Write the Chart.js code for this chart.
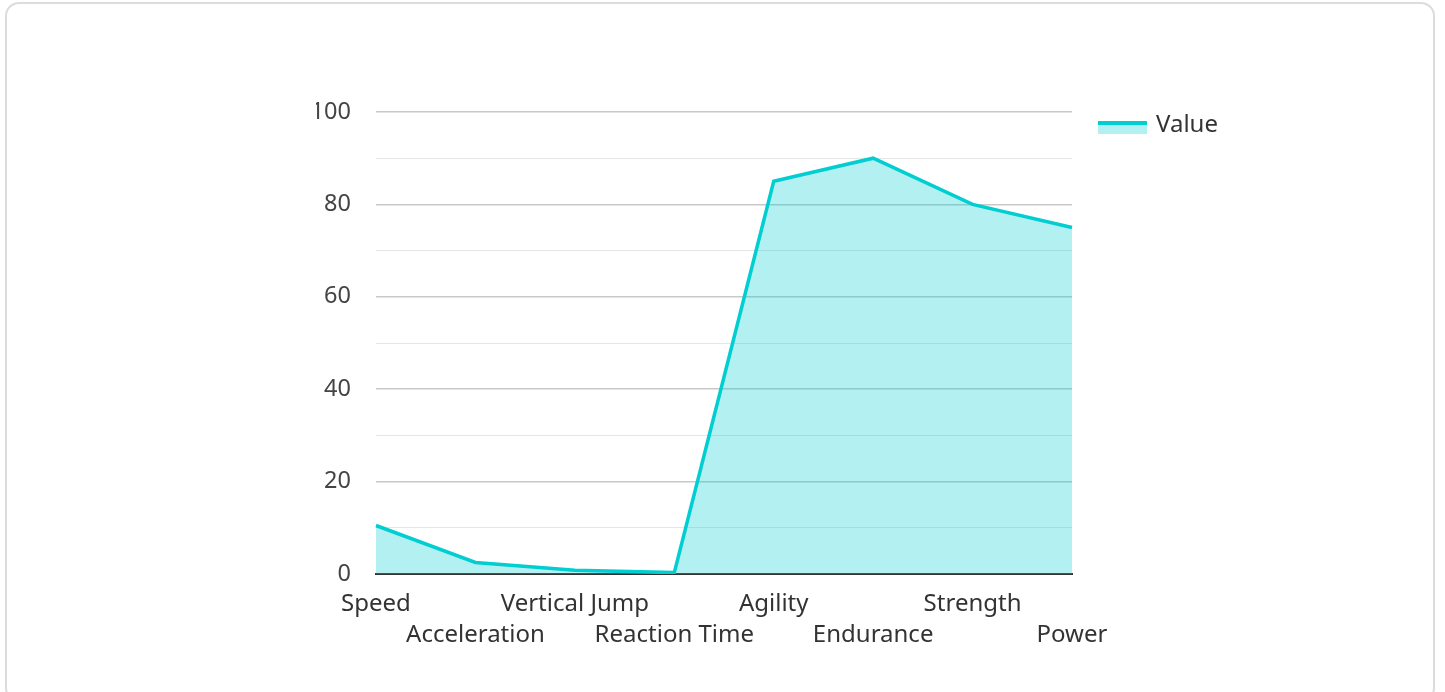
<!DOCTYPE html>
<html>
<head>
<meta charset="utf-8">
<script src="https://cdn.jsdelivr.net/npm/chart.js@4/dist/chart.umd.min.js"></script>
<style>
  html, body { margin: 0; padding: 0; background: #fff; overflow: hidden; }
  .card {
    position: absolute; left: 5px; top: 2px; width: 1430px; height: 700px;
    border: 2px solid #dcdcdc; border-radius: 14px; box-sizing: border-box;
  }
  #wrap { position: absolute; left: 0; top: 0; width: 1445px; height: 692px; }
</style>
</head>
<body>
<div class="card"></div>
<div id="wrap"><canvas id="chart"></canvas></div>
<script>
// dati
const categories = ["Speed", "Acceleration", "Vertical Jump", "Reaction Time", "Agility", "Endurance", "Strength", "Power"];
const values = [10.5, 2.5, 0.8, 0.3, 85, 90, 80, 75];
const yTickLabels = [0, 20, 40, 60, 80, 100];
const seriesName = "Value";

const LINE = "#00CED1";
const FILL = "rgba(0, 206, 209, 0.3)";
const FONT = "'Noto Sans', 'Open Sans', sans-serif";

// legenda stile "linea + area" disegnata a mano a destra dell'area del grafico
const areaLegend = {
  id: "areaLegend",
  afterDraw(chart){
    const ctx = chart.ctx;
    const x = chart.chartArea.right + 26;
    const y = chart.chartArea.top + 10;
    ctx.save();
    ctx.fillStyle = FILL;
    ctx.fillRect(x, y, 49, 12);
    ctx.fillStyle = LINE;
    ctx.fillRect(x, y - 1, 49, 4);
    ctx.fillStyle = "#333";
    ctx.font = "24px " + FONT;
    ctx.textBaseline = "middle";
    ctx.fillText(seriesName, x + 58, y + 3);
    ctx.restore();
  }
};

new Chart(document.getElementById("chart"), {
  type: "line",
  data: {
    labels: categories,
    datasets: [{
      label: seriesName,
      data: values,
      borderColor: LINE,
      backgroundColor: FILL,
      borderWidth: 3.5,
      pointRadius: 0,
      tension: 0,
      fill: "origin"
    }]
  },
  options: {
    responsive: true,
    maintainAspectRatio: false,
    animation: false,
    layout: { padding: { left: 316, right: 373, top: 112, bottom: 38 } },
    plugins: { legend: { display: false }, tooltip: { enabled: false } },
    scales: {
      x: {
        afterFit: (s) => { s.height = 80; },
        grid: { display: false, drawTicks: false },
        border: { display: true, color: "#333", width: 2 },
        ticks: {
          autoSkip: false, maxRotation: 0, padding: 15,
          color: "#333",
          font: { size: 24, family: FONT, lineHeight: 1.28 },
          // etichette sfalsate su due righe
          callback: (v, i) => i % 2 ? ["", categories[i]] : categories[i]
        }
      },
      y: {
        min: 0, max: 100,
        afterFit: (s) => { s.width = 60; },
        border: { display: false },
        grid: {
          drawTicks: false,
          color: (c) => c.tick && yTickLabels.includes(c.tick.value) ? "#c8c8c8" : "#e6e6e6",
          lineWidth: (c) => c.tick && yTickLabels.includes(c.tick.value) ? 1.5 : 1
        },
        ticks: {
          stepSize: 10, padding: 25,
          color: "#444",
          font: { size: 23.5, family: FONT },
          callback: (v) => yTickLabels.includes(v) ? String(v) : ""
        }
      }
    }
  },
  plugins: [areaLegend]
});
</script>
</body>
</html>
